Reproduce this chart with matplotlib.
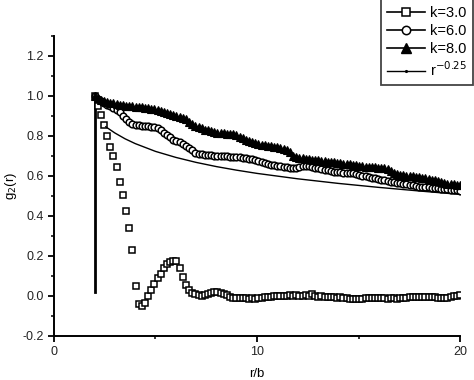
import matplotlib
matplotlib.use('Agg')
import matplotlib.pyplot as plt
from matplotlib.ticker import MultipleLocator, FormatStrFormatter
from matplotlib.lines import Line2D
import numpy as np

plt.rcParams['font.family'] = ['Liberation Sans', 'DejaVu Sans']

r = np.linspace(2.0, 20.0, 117)

g_k3 = [1.000, 0.950, 0.905, 0.855, 0.800, 0.745, 0.700, 0.647, 0.572, 0.505,
        0.425, 0.342, 0.232, 0.048, -0.042, -0.048, -0.033, 0.000, 0.030, 0.060,
        0.092, 0.110, 0.138, 0.160, 0.170, 0.175, 0.173, 0.138, 0.097, 0.055,
        0.030, 0.013, 0.008, 0.003, -0.002, 0.005, 0.012, 0.017, 0.019, 0.018,
        0.015, 0.010, 0.004, -0.003, -0.008, -0.010, -0.009, -0.010, -0.012, -0.013,
        -0.011, -0.014, -0.012, -0.008, -0.005, -0.007, -0.004, -0.001, 0.001, -0.001,
        0.002, 0.001, 0.003, 0.002, 0.004, 0.002, 0.001, 0.003, 0.000, 0.010,
        0.002, -0.003, -0.002, -0.004, -0.003, -0.006, -0.005, -0.008, -0.006, -0.010,
        -0.012, -0.014, -0.016, -0.015, -0.017, -0.014, -0.012, -0.010, -0.011, -0.008,
        -0.010, -0.009, -0.011, -0.013, -0.010, -0.009, -0.015, -0.010, -0.008, -0.009,
        -0.006, -0.007, -0.005, -0.006, -0.004, -0.006, -0.005, -0.007, -0.006, -0.009,
        -0.010, -0.012, -0.008, -0.004, -0.002, 0.001, 0.004]

g_k6 = [1.000, 0.985, 0.975, 0.963, 0.955, 0.948, 0.940, 0.930, 0.918, 0.902,
        0.885, 0.872, 0.860, 0.856, 0.853, 0.851, 0.850, 0.848, 0.846, 0.843,
        0.840, 0.830, 0.815, 0.805, 0.795, 0.782, 0.775, 0.768, 0.758, 0.750,
        0.740, 0.728, 0.716, 0.710, 0.708, 0.706, 0.704, 0.703, 0.702, 0.700,
        0.701, 0.699, 0.698, 0.697, 0.696, 0.694, 0.693, 0.690, 0.688, 0.686,
        0.684, 0.681, 0.676, 0.670, 0.665, 0.660, 0.657, 0.654, 0.652, 0.650,
        0.647, 0.644, 0.641, 0.638, 0.640, 0.644, 0.648, 0.650, 0.648, 0.645,
        0.641, 0.638, 0.636, 0.632, 0.628, 0.624, 0.621, 0.620, 0.619, 0.617,
        0.616, 0.614, 0.613, 0.610, 0.606, 0.602, 0.598, 0.595, 0.591, 0.588,
        0.584, 0.581, 0.578, 0.575, 0.572, 0.569, 0.566, 0.563, 0.561, 0.558,
        0.555, 0.553, 0.550, 0.547, 0.546, 0.545, 0.543, 0.542, 0.540, 0.539,
        0.537, 0.535, 0.534, 0.532, 0.530, 0.528, 0.525]

g_k8 = [1.000, 0.990, 0.980, 0.975, 0.971, 0.967, 0.963, 0.960, 0.957, 0.954,
        0.952, 0.950, 0.948, 0.946, 0.944, 0.943, 0.941, 0.939, 0.937, 0.934,
        0.930, 0.926, 0.921, 0.916, 0.912, 0.907, 0.902, 0.897, 0.892, 0.884,
        0.870, 0.858, 0.850, 0.844, 0.838, 0.832, 0.828, 0.824, 0.820, 0.817,
        0.815, 0.814, 0.812, 0.810, 0.808, 0.804, 0.797, 0.788, 0.780, 0.773,
        0.768, 0.764, 0.760, 0.757, 0.754, 0.751, 0.748, 0.746, 0.743, 0.740,
        0.736, 0.732, 0.718, 0.700, 0.694, 0.690, 0.688, 0.686, 0.684, 0.682,
        0.680, 0.678, 0.676, 0.674, 0.672, 0.670, 0.668, 0.666, 0.664, 0.662,
        0.660, 0.658, 0.656, 0.654, 0.652, 0.649, 0.647, 0.646, 0.644, 0.643,
        0.642, 0.641, 0.640, 0.636, 0.625, 0.613, 0.609, 0.606, 0.604, 0.602,
        0.600, 0.598, 0.597, 0.594, 0.591, 0.588, 0.584, 0.581, 0.578, 0.574,
        0.570, 0.566, 0.562, 0.560, 0.558, 0.556, 0.555]

# r^-0.25 reference curve
r_fit = [2.55, 3.0, 3.5, 4.0, 5.0, 6.0, 7.0, 8.0, 9.0, 10.0, 12.0, 14.0, 16.0, 18.0, 20.0]
g_fit = [0.846, 0.815, 0.786, 0.762, 0.723, 0.693, 0.668, 0.647, 0.629, 0.613,
         0.586, 0.563, 0.543, 0.525, 0.508]

# vertical segment at the contact distance
r_wall = [2.0, 2.0]
g_wall = [0.02, 1.0]

fig = plt.figure(figsize=(4.74, 3.80), dpi=100)
ax = fig.add_axes([0.1139, 0.1158, 0.8566, 0.7895])

ax.plot(r_wall, g_wall, color='black', lw=2.0)
ax.plot(r, g_k3, ls='none', marker='s', ms=4.4, mfc='white', mec='black', mew=1.1,
        label='k=3.0')
ax.plot(r, g_k6, ls='none', marker='o', ms=4.8, mfc='white', mec='black', mew=1.1,
        label='k=6.0')
ax.plot(r, g_k8, ls='none', marker='^', ms=6.0, mfc='black', mec='black', mew=0.8,
        label='k=8.0')
ax.plot(r_fit, g_fit, color='black', lw=1.0, label='r$^{-0.25}$')

# legend handles drawn with a connecting line like the original
handles = [
    Line2D([], [], color='black', lw=1.2, marker='s', ms=5.5, mfc='white', mew=1.1),
    Line2D([], [], color='black', lw=1.2, marker='o', ms=6, mfc='white', mew=1.1),
    Line2D([], [], color='black', lw=1.2, marker='^', ms=6.5, mfc='black'),
    Line2D([], [], color='black', lw=1.0, marker='.', ms=2.5),
]
labels = ['k=3.0', 'k=6.0', 'k=8.0', 'r$^{-0.25}$']
leg = fig.legend(handles, labels, loc='upper right', bbox_to_anchor=(0.998, 1.002),
                 fontsize=10.5, handlelength=2.6, handletextpad=0.3, labelspacing=0.28,
                 borderpad=0.45, fancybox=False, framealpha=1, numpoints=1,
                 borderaxespad=0)
leg.get_frame().set_edgecolor('#444444')
leg.get_frame().set_linewidth(1.3)

ax.set_xlim(0, 20)
ax.set_ylim(-0.2, 1.3)
ax.xaxis.set_major_locator(MultipleLocator(10))
ax.xaxis.set_minor_locator(MultipleLocator(5))
ax.yaxis.set_minor_locator(MultipleLocator(0.1))
ax.yaxis.set_major_formatter(FormatStrFormatter('%.1f'))
ax.set_yticks([-0.2, 0.0, 0.2, 0.4, 0.6, 0.8, 1.0, 1.2])

for side in ['top', 'right']:
    ax.spines[side].set_visible(False)
for side in ['left', 'bottom']:
    ax.spines[side].set_linewidth(1.4)

ax.tick_params(which='major', direction='out', length=4, width=1.3, labelsize=9,
               labelcolor='#222222')
ax.tick_params(which='minor', direction='out', length=2.5, width=1.1)

ax.set_xlabel('r/b', fontsize=9.5, labelpad=7)
ax.set_ylabel('g$_2$(r)', fontsize=9.5, labelpad=2)

plt.savefig('out.png', dpi=100)
